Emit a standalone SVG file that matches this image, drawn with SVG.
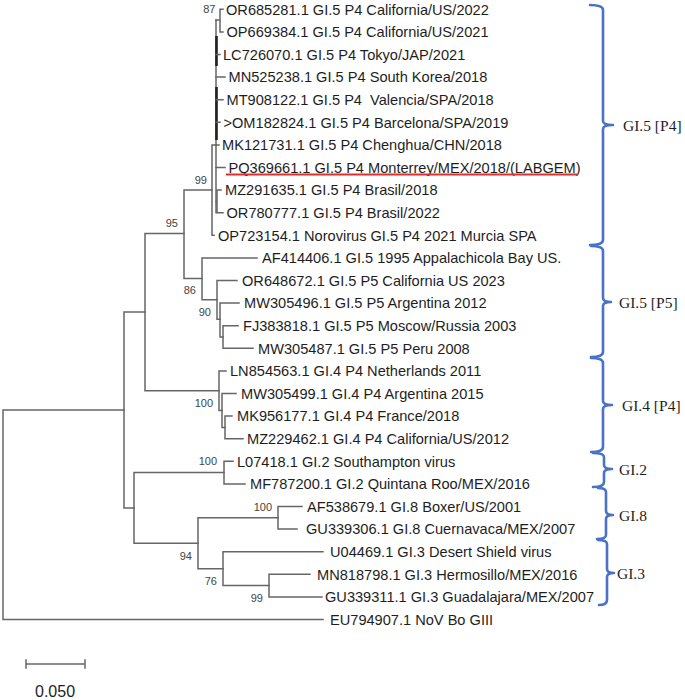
<svg xmlns="http://www.w3.org/2000/svg" width="685" height="700" viewBox="0 0 685 700">
<style>
.br{fill:none;stroke:#666;stroke-width:1.5;stroke-linecap:square}
.th{fill:none;stroke:#222;stroke-width:2.6}
.lf{font-family:"Liberation Sans",Arial,sans-serif;font-size:14.6px;fill:#1e1e1e;white-space:pre}
.bs{font-family:"Liberation Sans",Arial,sans-serif;font-size:11px;fill:#444;text-anchor:end}
.bk{fill:none;stroke:#4a72c8;stroke-width:2.6;stroke-linejoin:round;stroke-linecap:round}
.cl{font-family:"Liberation Serif","Times New Roman",serif;font-size:15.5px;fill:#1e1e1e}
</style>
<rect width="685" height="700" fill="#fff"/>
<g id="connectors">
<path class="br" d="M3,410V619.5H323M3,410H124"/>
<path class="br" d="M124,312V508M124,312H145M124,508H134"/>
<path class="br" d="M145,233.5V390.7M145,233.5H184M145,390.7H219"/>
<path class="br" d="M184,190V278.5M184,190H212M184,278.5H202"/>
<path class="br" d="M212,145V235.3H214M212,145H216"/>
<path class="br" d="M216,20V212.7"/>
<path class="th" d="M216.5,36V66M216.5,87V140"/>
<path class="br" d="M216,20H220M220,9.3V31.9M220,9.3H223M220,31.9H223"/>
<path class="br" d="M216,54.5H220M216,77.1H225M216,99.7H223M216,122.3H220M216,144.9H219M216,167.5H225"/>
<path class="br" d="M216,201.4H217M217,190.1V212.7M217,190.1H221M217,212.7H223"/>
<path class="br" d="M202,257.9V299.8M202,257.9H257M202,299.8H217"/>
<path class="br" d="M217,280.5V319.2M217,280.5H237M217,319.2H220"/>
<path class="br" d="M220,303.1V337M220,303.1H239M220,337H223"/>
<path class="br" d="M223,325.7V348.3M223,325.7H238M223,348.3H253"/>
<path class="br" d="M219,370.9V410.5M219,370.9H226M219,410.5H222"/>
<path class="br" d="M222,393.5V427.4M222,393.5H236M222,427.4H225"/>
<path class="br" d="M225,416.1V438.7M225,416.1H232M225,438.7H243"/>
<path class="br" d="M134,472.6V543.2M134,472.6H224M134,543.2H198"/>
<path class="br" d="M224,461.3V483.9M224,461.3H233M224,483.9H245"/>
<path class="br" d="M198,517.8V568.7M198,517.8H278M198,568.7H223"/>
<path class="br" d="M278,506.5V529.1M278,506.5H302M278,529.1H297"/>
<path class="br" d="M223,551.7V585.6M223,551.7H323M223,585.6H269"/>
<path class="br" d="M269,574.3V596.9M269,574.3H310M269,596.9H322"/>
</g>
<g id="leaves">
<g id="n1"><text class="lf" x="226" y="14.5">OR685281.1 GI.5 P4 California/US/2022</text></g>
<g id="n2"><text class="lf" x="226.5" y="37.1">OP669384.1 GI.5 P4 California/US/2021</text></g>
<g id="n3"><text class="lf" x="223" y="59.7">LC726070.1 GI.5 P4 Tokyo/JAP/2021</text></g>
<g id="n4"><text class="lf" x="228.5" y="82.3">MN525238.1 GI.5 P4 South Korea/2018</text></g>
<g id="n5"><text class="lf" x="226.5" y="104.9">MT908122.1 GI.5 P4  Valencia/SPA/2018</text></g>
<g id="n6"><text class="lf" x="223.5" y="127.5">&gt;OM182824.1 GI.5 P4 Barcelona/SPA/2019</text></g>
<g id="n7"><text class="lf" x="222" y="150.1">MK121731.1 GI.5 P4 Chenghua/CHN/2018</text></g>
<g id="n8"><text class="lf" x="228.5" y="172.7">PQ369661.1 GI.5 P4 Monterrey/MEX/2018/(LABGEM)</text><path d="M226,174.5H577" fill="none" stroke="#e0302a" stroke-width="1.8"/></g>
<g id="n9"><text class="lf" x="225" y="195.3">MZ291635.1 GI.5 P4 Brasil/2018</text></g>
<g id="n10"><text class="lf" x="226.5" y="217.9">OR780777.1 GI.5 P4 Brasil/2022</text></g>
<g id="n11"><text class="lf" x="218" y="240.5">OP723154.1 Norovirus GI.5 P4 2021 Murcia SPA</text></g>
<g id="n12"><text class="lf" x="262" y="263.1">AF414406.1 GI.5 1995 Appalachicola Bay US.</text></g>
<g id="n13"><text class="lf" x="242" y="285.7">OR648672.1 GI.5 P5 California US 2023</text></g>
<g id="n14"><text class="lf" x="244" y="308.3">MW305496.1 GI.5 P5 Argentina 2012</text></g>
<g id="n15"><text class="lf" x="243" y="330.9">FJ383818.1 GI.5 P5 Moscow/Russia 2003</text></g>
<g id="n16"><text class="lf" x="258" y="353.5">MW305487.1 GI.5 P5 Peru 2008</text></g>
<g id="n17"><text class="lf" x="230" y="376.1">LN854563.1 GI.4 P4 Netherlands 2011</text></g>
<g id="n18"><text class="lf" x="241" y="398.7">MW305499.1 GI.4 P4 Argentina 2015</text></g>
<g id="n19"><text class="lf" x="237" y="421.3">MK956177.1 GI.4 P4 France/2018</text></g>
<g id="n20"><text class="lf" x="247" y="443.9">MZ229462.1 GI.4 P4 California/US/2012</text></g>
<g id="n21"><text class="lf" x="237" y="466.5">L07418.1 GI.2 Southampton virus</text></g>
<g id="n22"><text class="lf" x="250" y="489.1">MF787200.1 GI.2 Quintana Roo/MEX/2016</text></g>
<g id="n23"><text class="lf" x="307" y="511.7">AF538679.1 GI.8 Boxer/US/2001</text></g>
<g id="n24"><text class="lf" x="306" y="534.3">GU339306.1 GI.8 Cuernavaca/MEX/2007</text></g>
<g id="n25"><text class="lf" x="330" y="556.9">U04469.1 GI.3 Desert Shield virus</text></g>
<g id="n26"><text class="lf" x="317" y="579.5">MN818798.1 GI.3 Hermosillo/MEX/2016</text></g>
<g id="n27"><text class="lf" x="325" y="602.1">GU339311.1 GI.3 Guadalajara/MEX/2007</text></g>
<g id="n28"><text class="lf" x="330" y="624.7">EU794907.1 NoV Bo GIII</text></g>
</g>
<g id="support">
<text class="bs" x="215.5" y="13">87</text>
<text class="bs" x="207" y="184">99</text>
<text class="bs" x="178" y="227">95</text>
<text class="bs" x="196" y="294">86</text>
<text class="bs" x="211" y="316">90</text>
<text class="bs" x="213" y="407">100</text>
<text class="bs" x="217" y="465">100</text>
<text class="bs" x="272" y="511">100</text>
<text class="bs" x="192" y="560">94</text>
<text class="bs" x="217" y="585">76</text>
<text class="bs" x="263" y="602">99</text>
</g>
<g id="brackets">
<g id="c1"><path class="bk" d="M590,5Q603,5 603,10V121Q603,125 613,125Q603,125 603,129V240Q603,245 590,245"/><text class="cl" x="623" y="130.5">GI.5 [P4]</text></g>
<g id="c2"><path class="bk" d="M591,246Q603,246 603,251V298Q603,302 611,302Q603,302 603,306V352Q603,357 591,357"/><text class="cl" x="619" y="307.5">GI.5 [P5]</text></g>
<g id="c3"><path class="bk" d="M591,358Q603,358 603,363V401Q603,405 612,405Q603,405 603,409V447Q603,452 591,452"/><text class="cl" x="622" y="410.5">GI.4 [P4]</text></g>
<g id="c4"><path class="bk" d="M593,453Q604,453 604,457V465Q604,469 612,469Q604,469 604,473V482Q604,487 593,487"/><text class="cl" x="619" y="474.5">GI.2</text></g>
<g id="c5"><path class="bk" d="M598,488Q606,488 606,492V511Q606,515 613,515Q606,515 606,519V535Q606,539 597,539"/><text class="cl" x="619" y="520.5">GI.8</text></g>
<g id="c6"><path class="bk" d="M598,540Q607,540 607,544V569Q607,573 614,573Q607,573 607,577V600Q607,605 599,605"/><text class="cl" x="617" y="578.5">GI.3</text></g>
</g>
<g id="scale">
<path class="br" d="M26,664H85M26,660V668M85,660V668"/>
<text class="lf" x="35" y="697" style="font-size:16px">0.050</text>
</g>
</svg>
